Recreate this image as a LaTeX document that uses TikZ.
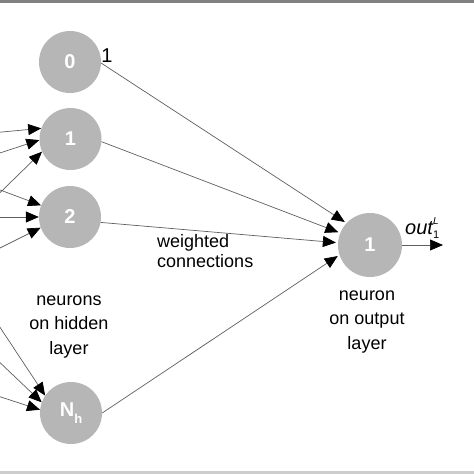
\documentclass[tikz,border=0pt]{standalone}
\usepackage{fontspec}
\setmainfont{Liberation Sans}
\usetikzlibrary{arrows.meta}
\definecolor{nodegray}{RGB}{182,182,182}
\definecolor{linegray}{RGB}{95,95,95}
\definecolor{topbar}{RGB}{128,128,128}
\definecolor{botbar}{RGB}{205,205,205}
\begin{document}
\begin{tikzpicture}[x=1pt,y=-1pt,
  neuron/.style={circle,fill=nodegray,minimum size=62pt,inner sep=0pt,text=white,
    font=\fontsize{20}{20}\selectfont\bfseries},
  conn/.style={draw=linegray,line width=0.7pt,-{Triangle[length=13pt,width=11pt,color=black]}},
  lbl/.style={align=center,inner sep=0pt,font=\fontsize{18}{24.5}\selectfont}]
\clip (0,0) rectangle (474,474);
\fill[white] (0,0) rectangle (474,474);
\fill[topbar] (0,0) rectangle (474,2.5);
\fill[botbar] (0,471) rectangle (474,474);
% hidden neurons
\node[neuron] (h0) at (70,62) {0};
\node[neuron] (h1) at (70.5,139) {1};
\node[neuron] (h2) at (70,217) {2};
\node[neuron] (hN) at (71,413) {N\raisebox{-7pt}{\fontsize{13}{13}\selectfont h}};
% output neuron
\node[neuron,minimum size=64pt] (o) at (370,245) {1};
% inputs (off the left edge)
\coordinate (i1a) at (-30,135);
\coordinate (i1b) at (-30,162.75);
\coordinate (i1c) at (-30,222);
\coordinate (i2a) at (-30,178.75);
\coordinate (i2b) at (-30,217);
\coordinate (i2c) at (-30,263);
\coordinate (iNa) at (-30,282);
\coordinate (iNb) at (-30,334);
\coordinate (iNc) at (-30,387);
\draw[conn] (i1a) -- (h1.160);
\draw[conn] (i1b) -- (h1.182);
\draw[conn] (i1c) -- (h1.204);
\draw[conn] (i2a) -- (h2.158);
\draw[conn] (i2b) -- (h2.180);
\draw[conn] (i2c) -- (h2.200);
\draw[conn] (iNa) -- (hN.146);
\draw[conn] (iNb) -- (hN.160);
\draw[conn] (iNc) -- (hN.174);
% weighted connections
\draw[conn,shorten >=2pt] (h0.-2) -- (o.137);
\draw[conn,shorten >=2pt] (h1.-5) -- (o.158);
\draw[conn,shorten >=2pt] (h2.-10) -- (o.176);
\draw[conn,shorten >=2pt] (hN.0) -- (o.198);
\coordinate (oend) at (443,245);
\draw[conn] (o.east) -- (oend);
% labels
\node[inner sep=0pt,font=\fontsize{20}{20}\selectfont] (bias) at (107,55.5) {1};
\node[lbl] (hidlbl) at (69,326.6) {neurons\\on hidden\\layer};
\node[lbl] (outlbl) at (367,321.6) {neuron\\on output\\layer};
\node[lbl,align=left,anchor=west,font=\fontsize{18}{19.5}\selectfont] (wlbl) at (157,251) {weighted\\connections};
\node[inner sep=0pt,anchor=base west,font=\fontsize{20}{20}\selectfont] (outtxt) at (405,234)
  {\itshape out\rlap{\raisebox{10pt}{\fontsize{10}{10}\selectfont L}}\raisebox{-4pt}{\fontsize{11}{11}\selectfont\upshape 1}};
\end{tikzpicture}
\end{document}
